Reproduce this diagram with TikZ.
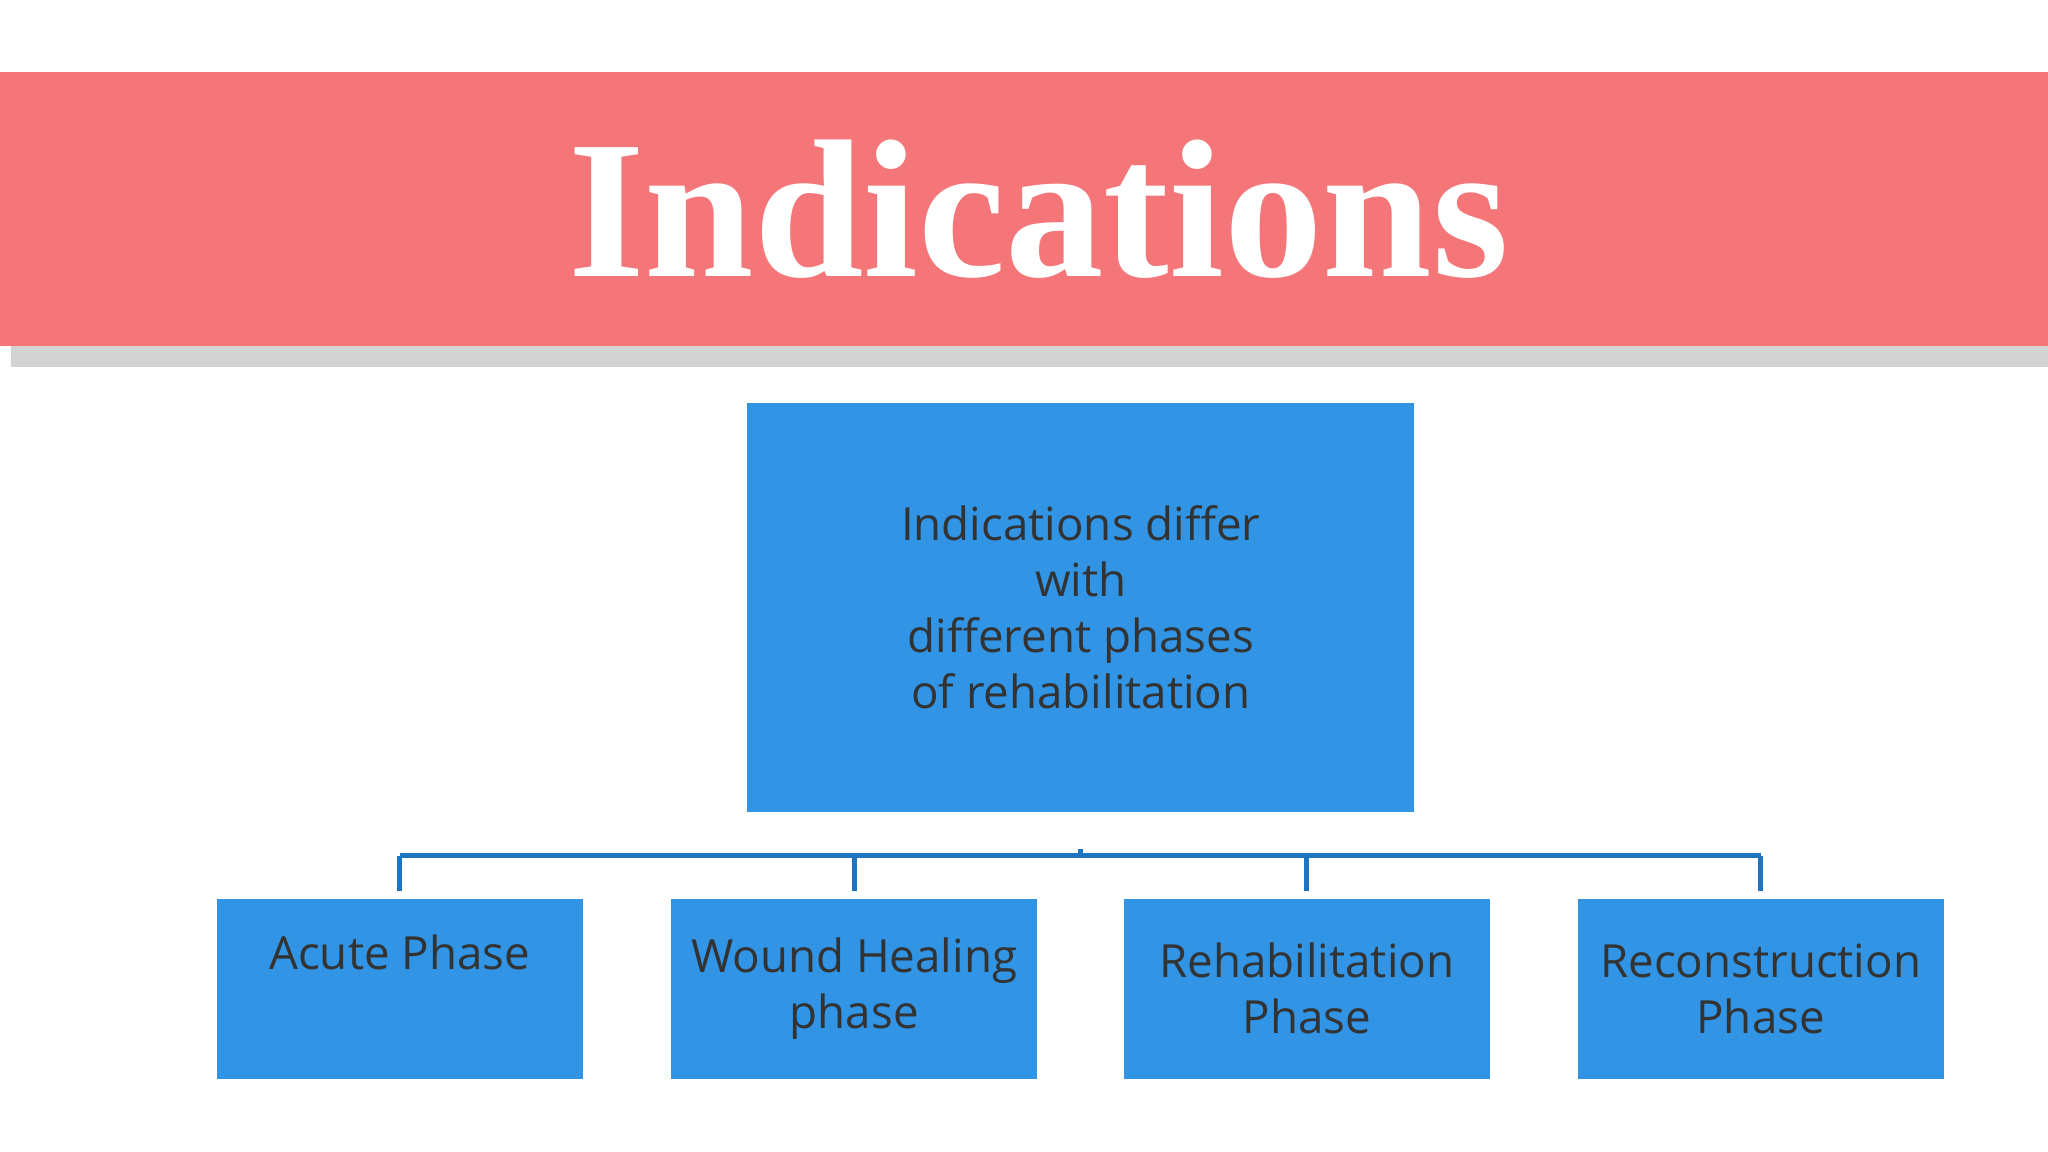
\documentclass[tikz,border=0pt]{standalone}
\usepackage{fontspec}
\setsansfont{Open Sans}
\setmainfont{Liberation Serif}
\usetikzlibrary{positioning,shadows}
\definecolor{banner}{HTML}{F47678}
\definecolor{boxblue}{HTML}{3194E4}
\definecolor{linkblue}{HTML}{1F74C2}
\definecolor{txt}{HTML}{333333}
\tikzset{
  phase/.style={rectangle,fill=boxblue,minimum width=3.66cm,minimum height=1.8cm,
    align=center,font=\sffamily\fontsize{13}{16}\selectfont,text=txt,inner sep=0pt},
  link/.style={draw=linkblue,line width=1.5pt}
}
\begin{document}
\begin{tikzpicture}[x=0.013061cm,y=-0.013061cm]
\useasboundingbox[fill=white] (0,0) rectangle (1568,882);
\fill[banner,drop shadow={shadow xshift=3pt,shadow yshift=-6pt,opacity=0.35}] (0,55) rectangle (1568,265);
\node[font=\bfseries\fontsize{56}{60}\selectfont,text=white](title) at (795,160){Indications};
\node[phase,minimum width=6.67cm,minimum height=4.09cm](top) at (827.5,465)
  {Indications differ\\with\\different phases\\of rehabilitation};
\node[phase](b1) at (306,757){Acute Phase\\\strut};
\node[phase](b2) at (654,757){Wound Healing\\phase};
\node[phase](b3) at (1000.5,757){Rehabilitation\\Phase};
\node[phase](b4) at (1348,757){Reconstruction\\Phase};
\coordinate (bus) at (0,655);
% connectors
\draw[link,shorten <=7\pgflinewidth] (top.south) -- (top.south |- bus);
\draw[link] (b1.north |- bus) -- (b4.north |- bus);
\foreach \b in {b1,b2,b3,b4}
  \draw[link,shorten <=0.07cm] (\b.north) -- (\b.north |- bus);
\end{tikzpicture}
\end{document}
